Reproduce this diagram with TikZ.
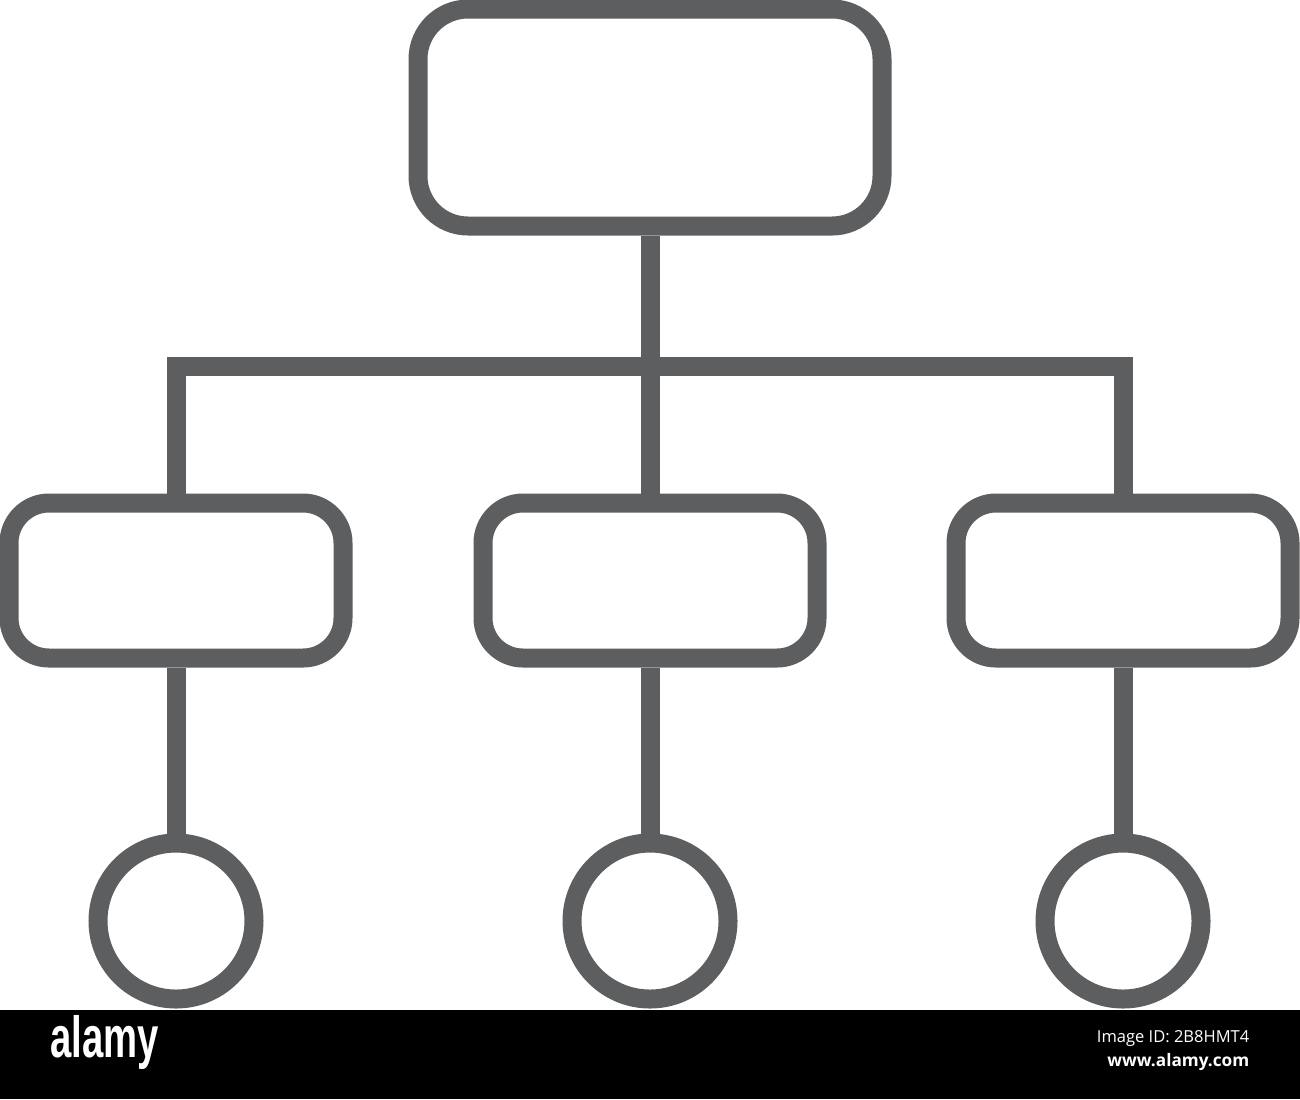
\documentclass[tikz,border=0pt]{standalone}
\usepackage{fontspec}
\usepackage{tikz}
\usetikzlibrary{positioning}
\definecolor{icongray}{RGB}{93, 94, 96}
\newfontfamily\logofont{Liberation Sans}
\newfontfamily\idfont{Open Sans}

\begin{document}
\begin{tikzpicture}[
    x=1cm, y=1cm,
    icon/.style={draw=icongray, line width=0.19cm},
    topbox/.style={icon, rectangle, rounded corners=0.5cm, minimum width=4.64cm, minimum height=2.17cm, inner sep=0pt},
    midbox/.style={icon, rectangle, rounded corners=0.4cm, minimum width=3.34cm, minimum height=1.55cm, inner sep=0pt},
    leaf/.style={icon, circle, minimum size=1.56cm, inner sep=0pt},
    link/.style={draw=icongray, line width=0.19cm}
  ]

\useasboundingbox (0,0) rectangle (13,-10.99);

% boxes
\node[topbox] (root) at (6.50,-1.175) {};
\node[midbox] (left) at (1.76,-5.805) {};
\node[midbox] (mid) at (6.50,-5.805) {};
\node[midbox] (right) at (11.23,-5.805) {};

% circles
\node[leaf] (leafl) at (1.76,-9.21) {};
\node[leaf] (leafm) at (6.50,-9.21) {};
\node[leaf] (leafr) at (11.23,-9.21) {};

% connectors
\coordinate (bus) at (11.23,-3.66);
\draw[link] (left.north) |- (bus) -- (right.north);
\draw[link] (root.south) -- (mid.north);
\draw[link] (left.south) -- (leafl.north);
\draw[link] (mid.south) -- (leafm.north);
\draw[link] (right.south) -- (leafr.north);

% footer
\fill[black] (0,-10.10) rectangle (13,-10.99);
\node[anchor=south west, inner sep=0pt, text=white, font=\logofont\bfseries\fontsize{16.5}{16.5}\selectfont, xscale=0.66, transform shape] (logo) at (0.50,-10.70) {alamy};
\node[anchor=south east, inner sep=0pt, text=white, font=\idfont\fontsize{4.7}{5}\selectfont] (imgid) at (12.50,-10.47) {Image ID: 2B8HMT4};
\node[anchor=south east, inner sep=0pt, text=white, font=\idfont\bfseries\fontsize{4.9}{5}\selectfont] (site) at (12.50,-10.71) {www.alamy.com};

\end{tikzpicture}
\end{document}
